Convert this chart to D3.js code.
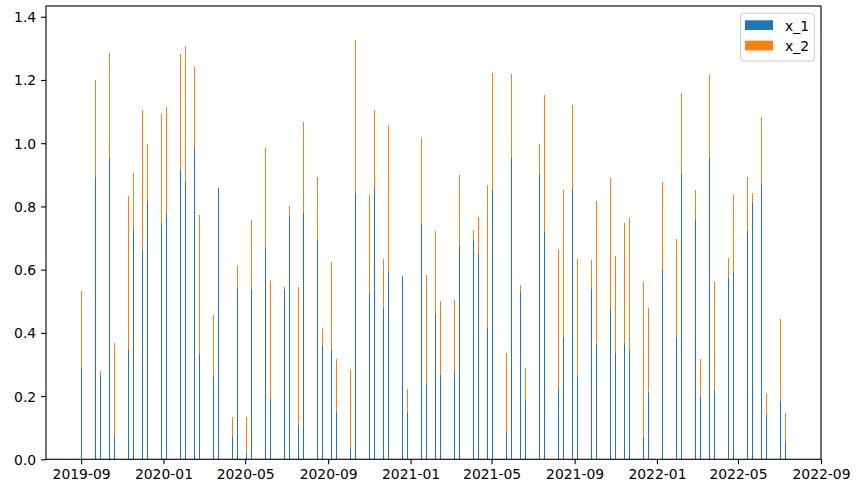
<!DOCTYPE html>
<html>
<head>
<meta charset="utf-8">
<script src="https://cdn.jsdelivr.net/npm/d3@7"></script>
<style>
  html, body { margin: 0; padding: 0; background: #fff; }
  svg { display: block; font-family: "DejaVu Sans", sans-serif; }
</style>
</head>
<body>
<svg id="chart" width="864" height="497"></svg>
<script>
// ---- data ----
const dates = [
  "2019-09-01","2019-09-22","2019-09-29","2019-10-13","2019-10-20","2019-11-10","2019-11-17","2019-12-01","2019-12-08","2019-12-29","2020-01-05","2020-01-26","2020-02-02","2020-02-16","2020-02-23","2020-03-15","2020-03-22",
  "2020-04-12","2020-04-19","2020-05-03","2020-05-10","2020-05-31","2020-06-07","2020-06-28","2020-07-05","2020-07-19","2020-07-26","2020-08-16","2020-08-23","2020-09-06","2020-09-13","2020-10-04","2020-10-11",
  "2020-11-01","2020-11-08","2020-11-22","2020-11-29","2020-12-20","2020-12-27","2021-01-17","2021-01-24","2021-02-07","2021-02-14","2021-03-07","2021-03-14","2021-04-04","2021-04-11","2021-04-25","2021-05-02",
  "2021-05-23","2021-05-30","2021-06-13","2021-06-20","2021-07-11","2021-07-18","2021-08-08","2021-08-15","2021-08-29","2021-09-05","2021-09-26","2021-10-03","2021-10-24","2021-10-31","2021-11-14","2021-11-21","2021-12-12","2021-12-19",
  "2022-01-09","2022-01-30","2022-02-06","2022-02-27","2022-03-06","2022-03-20","2022-03-27","2022-04-17","2022-04-24","2022-05-15","2022-05-22","2022-06-05","2022-06-12","2022-07-03","2022-07-10"
];
const x_1 = [
  0.289,0.893,0.264,0.953,0.074,0.345,0.727,0.663,0.817,0.747,0.779,0.918,0.878,0.989,0.334,0.264,0.857,
  0.072,0.542,0.021,0.540,0.669,0.191,0.535,0.769,0.108,0.780,0.694,0.359,0.345,0.149,0.037,0.841,
  0.526,0.858,0.479,0.591,0.576,0.145,0.745,0.238,0.460,0.266,0.275,0.676,0.693,0.648,0.416,0.851,
  0.087,0.953,0.529,0.188,0.903,0.720,0.224,0.387,0.854,0.263,0.539,0.366,0.476,0.337,0.369,0.342,0.072,0.214,
  0.602,0.387,0.902,0.761,0.196,0.953,0.220,0.575,0.593,0.723,0.813,0.871,0.140,0.185,0.054
];
const x_2 = [
  0.243,0.308,0.016,0.333,0.295,0.487,0.180,0.442,0.182,0.344,0.337,0.365,0.431,0.251,0.438,0.194,0.000,
  0.061,0.070,0.112,0.216,0.315,0.375,0.010,0.031,0.437,0.288,0.199,0.056,0.278,0.169,0.247,0.487,
  0.309,0.248,0.155,0.465,0.004,0.077,0.271,0.345,0.262,0.234,0.228,0.222,0.031,0.120,0.451,0.372,
  0.248,0.265,0.022,0.100,0.093,0.431,0.438,0.464,0.268,0.372,0.092,0.450,0.413,0.305,0.377,0.420,0.489,0.265,
  0.275,0.309,0.257,0.090,0.121,0.264,0.340,0.061,0.243,0.169,0.031,0.212,0.066,0.258,0.091
];
const seriesNames = ["x_1", "x_2"];
const seriesColors = ["#1f77b4", "#ff7f0e"];
const xTickLabels = ["2019-09","2020-01","2020-05","2020-09","2021-01","2021-05","2021-09","2022-01","2022-05","2022-09"];
const yTickValues = [0, 0.2, 0.4, 0.6, 0.8, 1.0, 1.2, 1.4];
const xDomain = ["2019-07-11", "2022-09-01"];
const yDomain = [0, 1.434];

// ---- layout ----
const W = 864, H = 497;
const m = { left: 46, right: 43, top: 6, bottom: 37.7 };
const iw = W - m.left - m.right, ih = H - m.top - m.bottom;
const FS = 13.9;

const parse = d3.utcParse("%Y-%m-%d");
const parseM = d3.utcParse("%Y-%m");
const rows = dates.map((d, i) => ({ date: parse(d), x_1: x_1[i], x_2: x_2[i] }));

const svg = d3.select("#chart");
const g = svg.append("g").attr("transform", `translate(${m.left},${m.top})`);

const x = d3.scaleUtc().domain(xDomain.map(parse)).range([0, iw]);
const y = d3.scaleLinear().domain(yDomain).range([ih, 0]);

const stack = d3.stack().keys(seriesNames);
const stacked = stack(rows);

const barW = 1;
g.append("g").selectAll("g")
  .data(stacked).join("g")
  .attr("fill", (d, i) => seriesColors[i])
  .selectAll("rect")
  .data(d => d).join("rect")
  .attr("shape-rendering", "crispEdges")
  .attr("x", d => Math.round(x(d.data.date) - barW / 2))
  .attr("width", barW)
  .attr("y", d => y(d[1]))
  .attr("height", d => Math.max(0, y(d[0]) - y(d[1])));

// axes
const xAxis = d3.axisBottom(x)
  .tickValues(xTickLabels.map(parseM))
  .tickFormat(d3.utcFormat("%Y-%m"))
  .tickSize(4.9).tickPadding(4.9);
const yAxis = d3.axisLeft(y)
  .tickValues(yTickValues)
  .tickFormat(d3.format(".1f"))
  .tickSize(4.9).tickPadding(4.9);

const gx = g.append("g").attr("transform", `translate(0,${ih})`).call(xAxis);
const gy = g.append("g").call(yAxis);
[gx, gy].forEach(a => {
  a.select(".domain").remove();
  a.selectAll(".tick line").attr("stroke", "#000").attr("stroke-width", 1.1);
  a.selectAll(".tick text").attr("fill", "#000").style("font-size", FS + "px")
    .style("font-family", "'DejaVu Sans', sans-serif");
});
gx.selectAll(".tick text").attr("dy", "0.73em");
gy.selectAll(".tick text").attr("dy", "0.36em");

// frame
g.append("rect").attr("x", 0).attr("y", 0).attr("width", iw).attr("height", ih)
  .attr("fill", "none").attr("stroke", "#000").attr("stroke-width", 1.1);

// legend
const lg = svg.append("g").attr("transform", "translate(740.5,13.3)");
lg.append("rect").attr("width", 73.8).attr("height", 47.7).attr("rx", 2.8)
  .attr("fill", "#fff").attr("fill-opacity", 0.8)
  .attr("stroke", "#cccccc").attr("stroke-width", 1);
seriesNames.forEach((name, i) => {
  const yy = 7 + i * 20.4;
  lg.append("rect").attr("x", 4.5).attr("y", yy).attr("width", 28).attr("height", 9.7)
    .attr("fill", seriesColors[i]);
  lg.append("text").attr("x", 44.5).attr("y", yy + 10.3)
    .style("font-size", FS + "px").attr("fill", "#000").text(name);
});
</script>
</body>
</html>
